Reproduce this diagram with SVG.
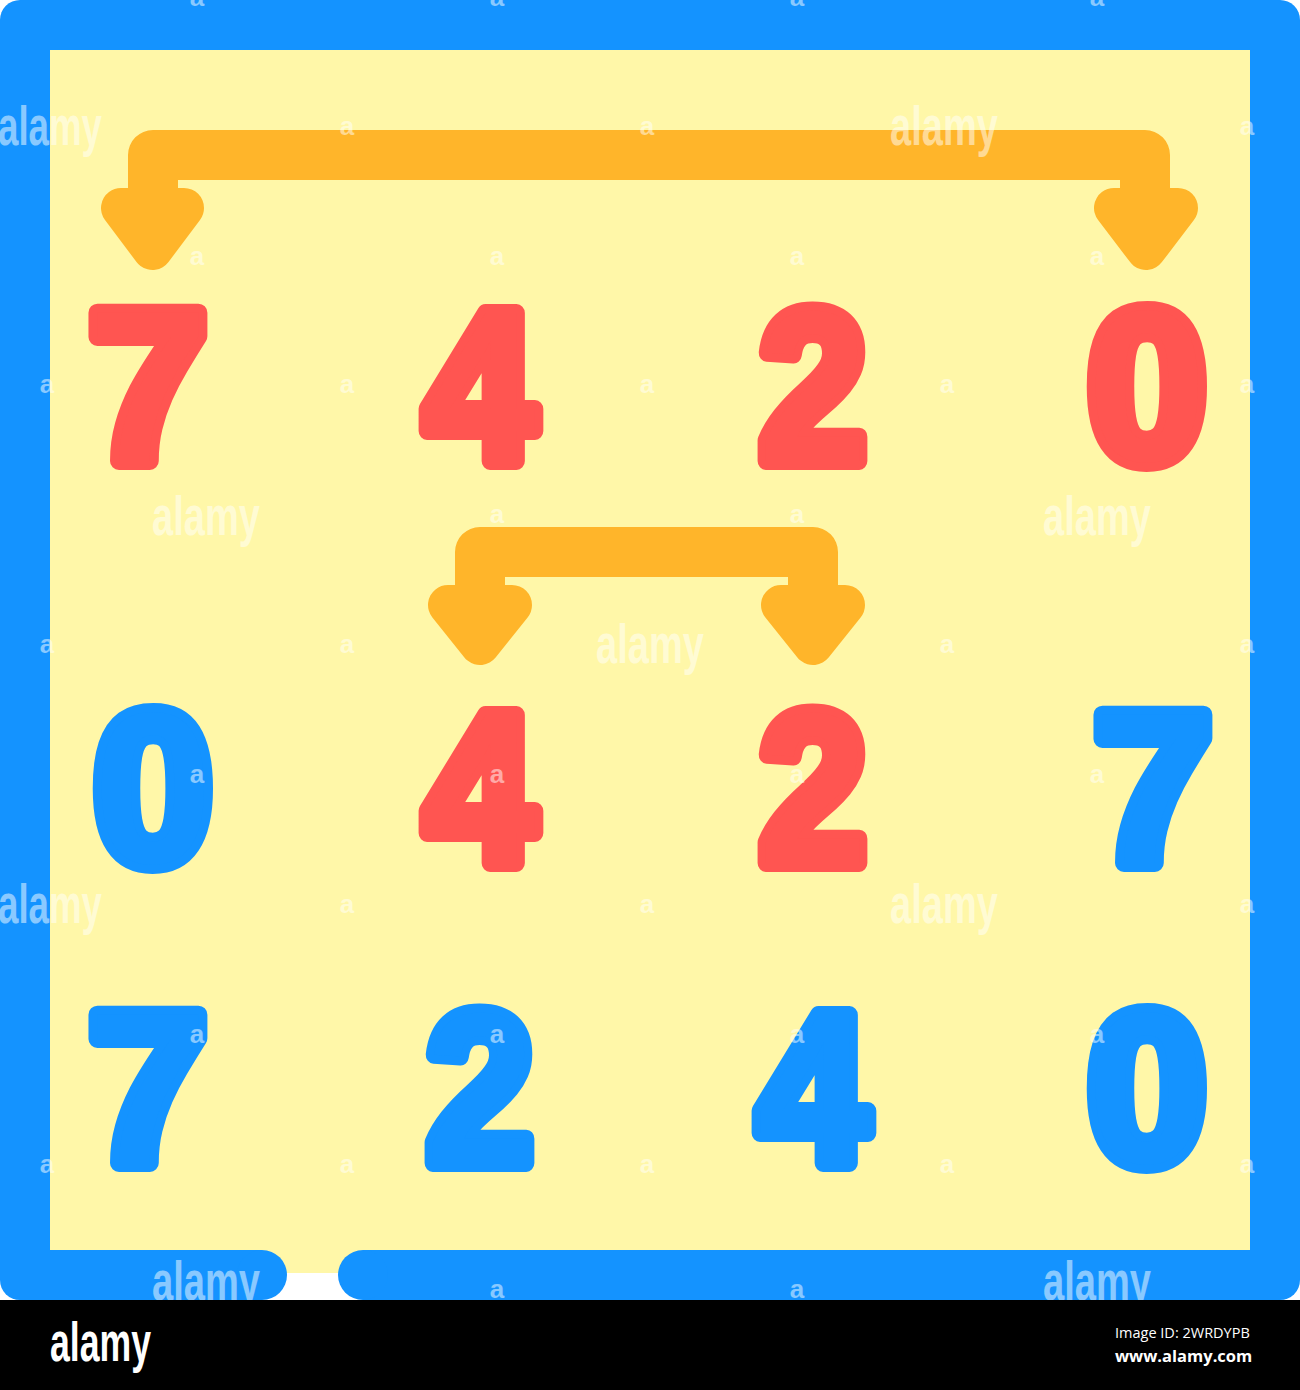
<svg xmlns="http://www.w3.org/2000/svg" width="1300" height="1390" viewBox="0 0 1300 1390">
<style>
.dig{font-family:"Liberation Sans",Arial,sans-serif;font-weight:bold;font-size:215px;text-anchor:middle;stroke-width:18;stroke-linejoin:round;paint-order:stroke}
.red{fill:#FF5551;stroke:#FF5551}
.blue{fill:#1493FF;stroke:#1493FF}
.bar{fill:none;stroke:#FFB52A;stroke-width:50;stroke-linejoin:round}
.head{fill:#FFB52A;stroke:#FFB52A;stroke-width:40;stroke-linejoin:round}
.wm{font-family:"Liberation Sans Narrow","Liberation Sans",Arial,sans-serif;font-weight:bold;fill:#ffffff;fill-opacity:0.5;text-anchor:middle}
.wmbig{font-size:56px}
.wma{font-size:26px}
</style>
<rect x="0" y="0" width="1300" height="1390" fill="#ffffff"/>
<g id="frame">
<rect x="0" y="0" width="1300" height="1300" rx="20" fill="#1493FF"/>
<rect x="50" y="50" width="1200" height="1200" fill="#FFF7A8"/>
<rect x="262" y="1250" width="101" height="50" fill="#ffffff"/>
<rect x="262" y="1250" width="101" height="23" fill="#FFF7A8"/>
<circle cx="262" cy="1275" r="25" fill="#1493FF"/>
<circle cx="363" cy="1275" r="25" fill="#1493FF"/>
</g>
<g id="connectors">
<path class="bar" d="M153,215 V155 H1145 V215"/>
<polygon class="head" points="121,208 184,208 152.5,250"/>
<polygon class="head" points="1114,208 1178,208 1146,250"/>
<path class="bar" d="M480,620 V552 H813 V620"/>
<polygon class="head" points="448,605 512,605 480,645"/>
<polygon class="head" points="781,605 845,605 813,645"/>
</g>
<g id="row1">
<g id="r1-7"><text class="dig red" x="148" y="461">7</text></g>
<g id="r1-4"><text class="dig red" x="480" y="461" textLength="112" lengthAdjust="spacingAndGlyphs">4</text></g>
<g id="r1-2"><text class="dig red" x="813" y="461" textLength="108" lengthAdjust="spacingAndGlyphs">2</text></g>
<g id="r1-0"><text class="dig red" x="1147" y="461">0</text></g>
</g>
<g id="row2">
<g id="r2-0"><text class="dig blue" x="153" y="863">0</text></g>
<g id="r2-4"><text class="dig red" x="480" y="863" textLength="112" lengthAdjust="spacingAndGlyphs">4</text></g>
<g id="r2-2"><text class="dig red" x="813" y="863" textLength="108" lengthAdjust="spacingAndGlyphs">2</text></g>
<g id="r2-7"><text class="dig blue" x="1153" y="863">7</text></g>
</g>
<g id="row3">
<g id="r3-7"><text class="dig blue" x="148" y="1163">7</text></g>
<g id="r3-2"><text class="dig blue" x="480" y="1163" textLength="108" lengthAdjust="spacingAndGlyphs">2</text></g>
<g id="r3-4"><text class="dig blue" x="813" y="1163" textLength="112" lengthAdjust="spacingAndGlyphs">4</text></g>
<g id="r3-0"><text class="dig blue" x="1147" y="1163">0</text></g>
</g>
<g id="watermark">
<text class="wm wmbig" x="50" y="145" textLength="104" lengthAdjust="spacingAndGlyphs">alamy</text>
<text class="wm wmbig" x="944" y="145" textLength="108" lengthAdjust="spacingAndGlyphs">alamy</text>
<text class="wm wmbig" x="206" y="535" textLength="108" lengthAdjust="spacingAndGlyphs">alamy</text>
<text class="wm wmbig" x="1097" y="535" textLength="108" lengthAdjust="spacingAndGlyphs">alamy</text>
<text class="wm wmbig" x="650" y="663" textLength="108" lengthAdjust="spacingAndGlyphs">alamy</text>
<text class="wm wmbig" x="50" y="923" textLength="104" lengthAdjust="spacingAndGlyphs">alamy</text>
<text class="wm wmbig" x="944" y="923" textLength="108" lengthAdjust="spacingAndGlyphs">alamy</text>
<text class="wm wmbig" x="206" y="1300" textLength="108" lengthAdjust="spacingAndGlyphs">alamy</text>
<text class="wm wmbig" x="1097" y="1300" textLength="108" lengthAdjust="spacingAndGlyphs">alamy</text>
<text class="wm wma" x="197" y="6">a</text><text class="wm wma" x="497" y="6">a</text><text class="wm wma" x="797" y="6">a</text><text class="wm wma" x="1097" y="6">a</text>
<text class="wm wma" x="347" y="135">a</text><text class="wm wma" x="647" y="135">a</text><text class="wm wma" x="1247" y="135">a</text>
<text class="wm wma" x="197" y="265">a</text><text class="wm wma" x="497" y="265">a</text><text class="wm wma" x="797" y="265">a</text><text class="wm wma" x="1097" y="265">a</text>
<text class="wm wma" x="47" y="393">a</text><text class="wm wma" x="347" y="393">a</text><text class="wm wma" x="647" y="393">a</text><text class="wm wma" x="947" y="393">a</text><text class="wm wma" x="1247" y="393">a</text>
<text class="wm wma" x="497" y="523">a</text><text class="wm wma" x="797" y="523">a</text>
<text class="wm wma" x="47" y="653">a</text><text class="wm wma" x="347" y="653">a</text><text class="wm wma" x="947" y="653">a</text><text class="wm wma" x="1247" y="653">a</text>
<text class="wm wma" x="197" y="783">a</text><text class="wm wma" x="497" y="783">a</text><text class="wm wma" x="797" y="783">a</text><text class="wm wma" x="1097" y="783">a</text>
<text class="wm wma" x="347" y="913">a</text><text class="wm wma" x="647" y="913">a</text><text class="wm wma" x="1247" y="913">a</text>
<text class="wm wma" x="197" y="1043">a</text><text class="wm wma" x="497" y="1043">a</text><text class="wm wma" x="797" y="1043">a</text><text class="wm wma" x="1097" y="1043">a</text>
<text class="wm wma" x="47" y="1173">a</text><text class="wm wma" x="347" y="1173">a</text><text class="wm wma" x="647" y="1173">a</text><text class="wm wma" x="947" y="1173">a</text><text class="wm wma" x="1247" y="1173">a</text>
<text class="wm wma" x="497" y="1298">a</text><text class="wm wma" x="797" y="1298">a</text>
</g>
<g id="footer">
<rect x="0" y="1300" width="1300" height="90" fill="#000000"/>
<text x="50" y="1361" font-family="Liberation Sans Narrow,Liberation Sans,Arial,sans-serif" font-weight="bold" font-size="56" fill="#ffffff" textLength="101" lengthAdjust="spacingAndGlyphs">alamy</text>
<text x="1115" y="1338" font-family="Open Sans,Noto Sans,sans-serif" font-size="14.5" fill="#ffffff">Image ID: 2WRDYPB</text>
<text x="1115" y="1362" font-family="Open Sans,Noto Sans,sans-serif" font-weight="bold" font-size="16.5" fill="#ffffff">www.alamy.com</text>
</g>
</svg>
